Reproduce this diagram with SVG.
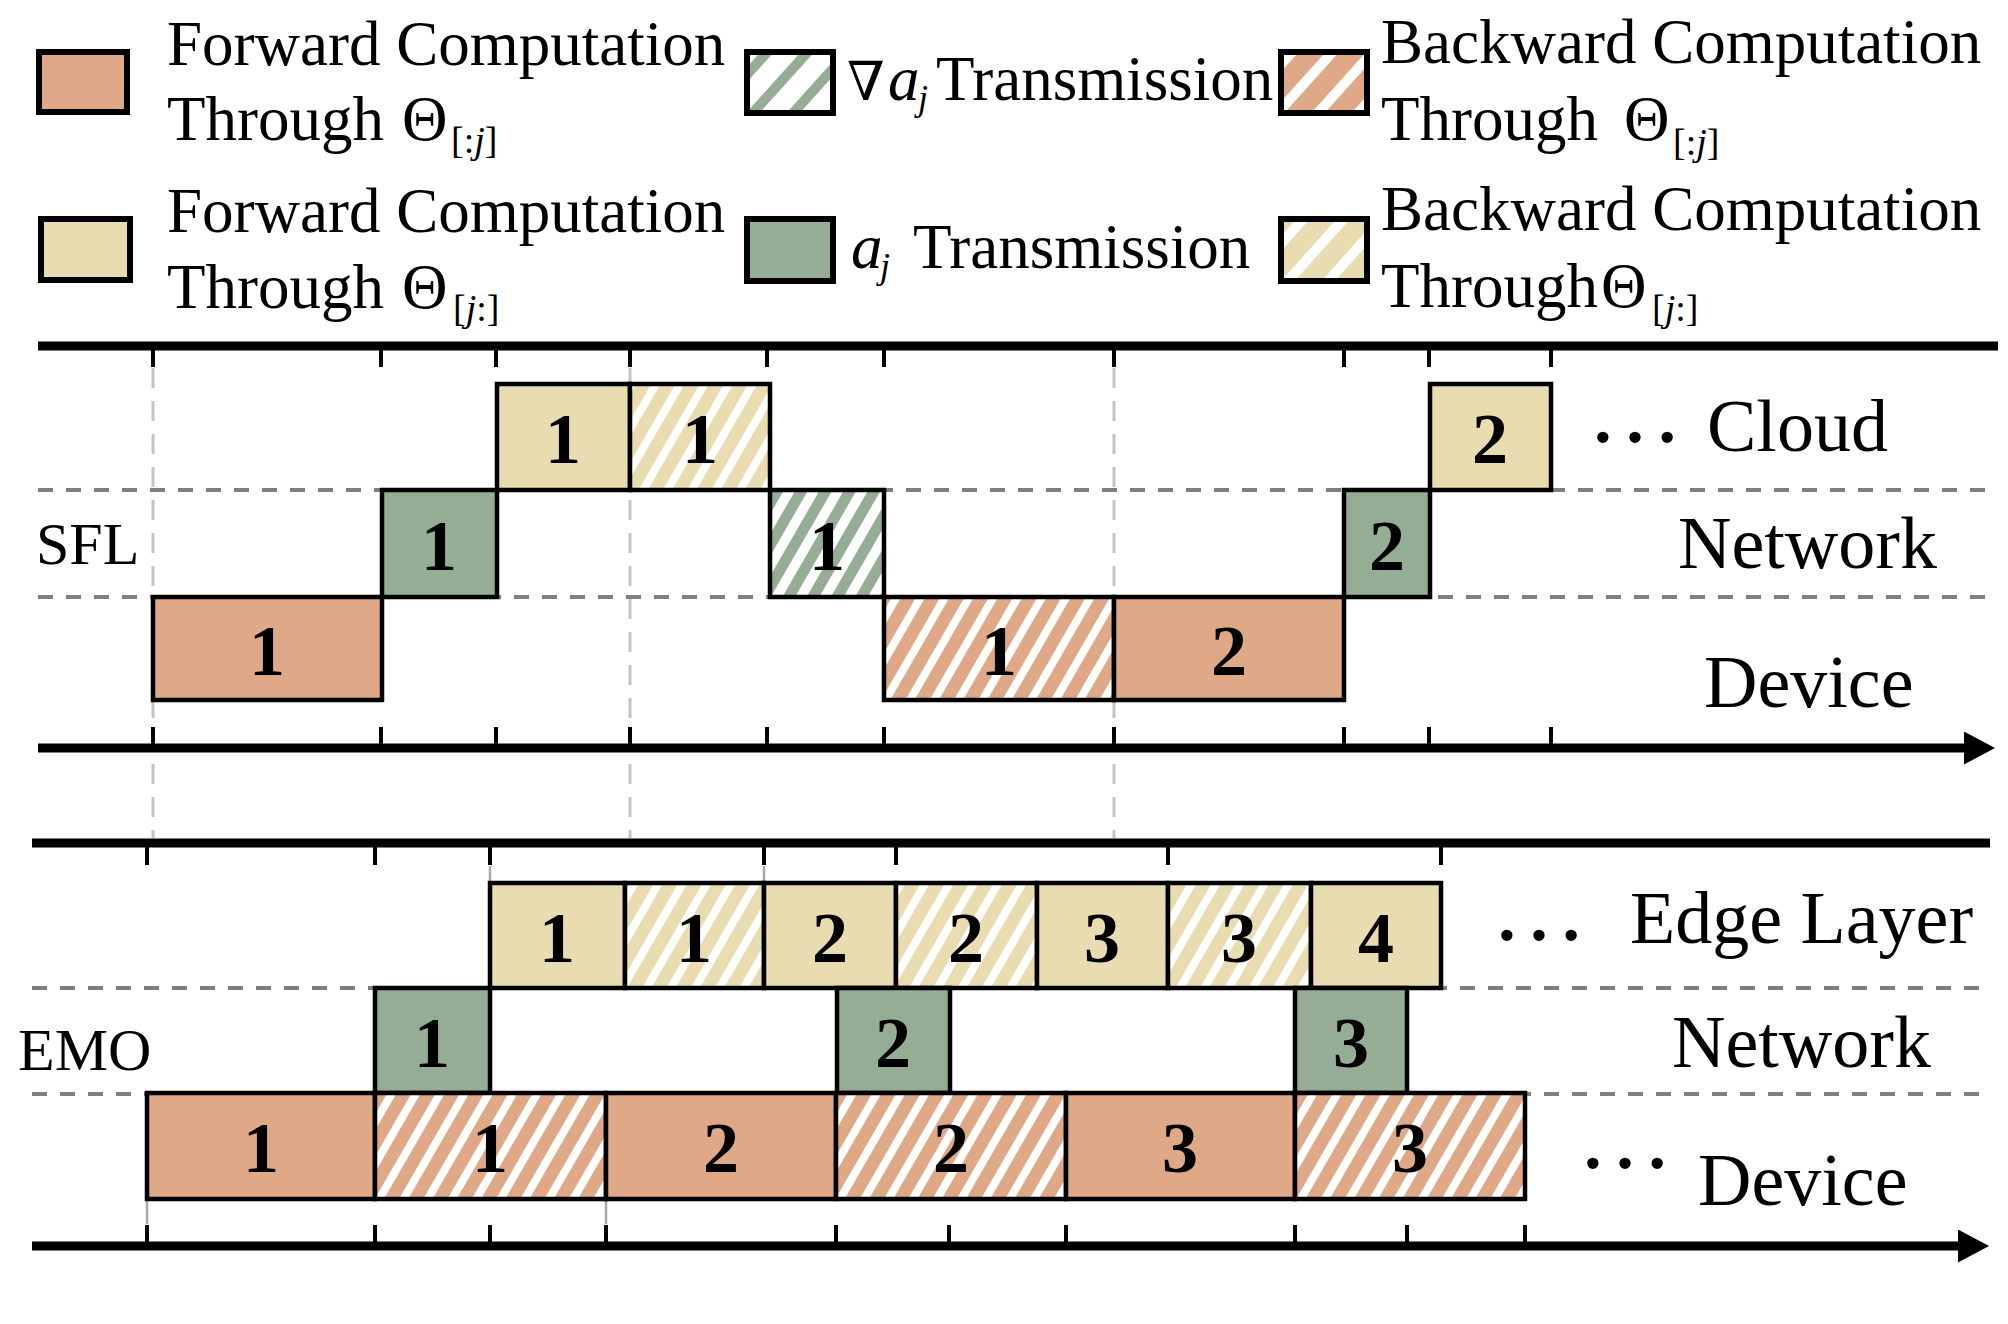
<svg xmlns="http://www.w3.org/2000/svg" width="2008" height="1324" viewBox="0 0 2008 1324">
<style>
.box{stroke:#000;stroke-width:4.5}
.lgb{stroke:#000;stroke-width:6}
.fo{fill:#DFA886}.fb{fill:#E9DCB0}.tg{fill:#95AD95}
.bo{fill:url(#hO)}.bb{fill:url(#hB)}.tgh{fill:url(#hG)}
.lbo{fill:url(#hOL)}.lbb{fill:url(#hBL)}.ltgh{fill:url(#hGL)}
.num{font-family:'Liberation Serif','Times New Roman',serif;font-weight:bold;font-size:72px;text-anchor:middle;fill:#000}
.lbl{font-family:'Liberation Serif','Times New Roman',serif;font-size:74px;fill:#000}
.side{font-family:'Liberation Serif','Times New Roman',serif;font-size:60px;fill:#000}
.leg{font-family:'Liberation Serif','Times New Roman',serif;font-size:63px;fill:#000}
.dots{font-family:'Liberation Serif','Times New Roman',serif;font-size:96px;fill:#000}
.axis{stroke:#000;stroke-width:9}
.tick{stroke:#000;stroke-width:4}
.hdash{stroke:#7F7F7F;stroke-width:4;stroke-dasharray:15 13}
.vdash{stroke:#C4C4C4;stroke-width:3;stroke-dasharray:20 13}
.guide{stroke:#A8A8A8;stroke-width:2.5}
</style>
<defs>
<pattern id="hO" patternUnits="userSpaceOnUse" width="21" height="21" patternTransform="rotate(30)"><rect width="21" height="21" fill="#DFA886"/><rect width="8" height="21" fill="#fff"/></pattern>
<pattern id="hB" patternUnits="userSpaceOnUse" width="21" height="21" patternTransform="rotate(30)"><rect width="21" height="21" fill="#E9DCB0"/><rect width="8" height="21" fill="#fff"/></pattern>
<pattern id="hG" patternUnits="userSpaceOnUse" width="21" height="21" patternTransform="rotate(30)"><rect width="21" height="21" fill="#95AD95"/><rect width="10" height="21" fill="#fff"/></pattern>
<pattern id="hOL" patternUnits="userSpaceOnUse" width="30" height="30" patternTransform="rotate(42)"><rect width="30" height="30" fill="#DFA886"/><rect width="10" height="30" fill="#fff"/></pattern>
<pattern id="hBL" patternUnits="userSpaceOnUse" width="30" height="30" patternTransform="rotate(42)"><rect width="30" height="30" fill="#E9DCB0"/><rect width="10" height="30" fill="#fff"/></pattern>
<pattern id="hGL" patternUnits="userSpaceOnUse" width="30" height="30" patternTransform="rotate(42)"><rect width="30" height="30" fill="#fff"/><rect width="10" height="30" fill="#95AD95"/></pattern>
<marker id="arr" markerUnits="userSpaceOnUse" markerWidth="32" markerHeight="33" refX="2" refY="16.5" orient="auto"><path d="M0,0 L31,16.5 L0,33 Z" fill="#000"/></marker>
</defs>
<rect width="2008" height="1324" fill="#fff"/>

<g id="legend">
<g id="leg-fwd-dev"><rect class="lgb fo" x="39" y="52" width="88" height="60"/>
<text class="leg" x="167" y="65">Forward Computation</text>
<text class="leg" x="167" y="140">Through<tspan x="402">Θ</tspan><tspan x="451" dy="13" font-size="38">[:<tspan font-style="italic">j</tspan>]</tspan></text></g>
<g id="leg-fwd-cloud"><rect class="lgb fb" x="41" y="219" width="89" height="61"/>
<text class="leg" x="167" y="232">Forward Computation</text>
<text class="leg" x="167" y="308">Through<tspan x="402">Θ</tspan><tspan x="453" dy="13" font-size="38">[<tspan font-style="italic">j</tspan>:]</tspan></text></g>
<g id="leg-grad"><rect class="lgb ltgh" x="747" y="52" width="86" height="61"/>
<text class="leg" x="847" y="100"><tspan font-family="'Liberation Serif','DejaVu Serif',serif" font-size="54">∇</tspan><tspan x="888" font-style="italic">a</tspan><tspan x="918" dy="10" font-size="36" font-style="italic">j</tspan><tspan x="936" dy="-10">Transmission</tspan></text></g>
<g id="leg-act"><rect class="lgb tg" x="747" y="219" width="86" height="62"/>
<text class="leg" x="851" y="268"><tspan font-style="italic">a</tspan><tspan x="880" dy="10" font-size="36" font-style="italic">j</tspan><tspan x="913" dy="-10">Transmission</tspan></text></g>
<g id="leg-bwd-dev"><rect class="lgb lbo" x="1281" y="52" width="86" height="61"/>
<text class="leg" x="1381" y="63">Backward Computation</text>
<text class="leg" x="1381" y="140">Through<tspan x="1624">Θ</tspan><tspan x="1673" dy="15" font-size="38">[:<tspan font-style="italic">j</tspan>]</tspan></text></g>
<g id="leg-bwd-cloud"><rect class="lgb lbb" x="1281" y="219" width="86" height="62"/>
<text class="leg" x="1381" y="230">Backward Computation</text>
<text class="leg" x="1381" y="307">Through<tspan x="1601">Θ</tspan><tspan x="1652" dy="14" font-size="38">[<tspan font-style="italic">j</tspan>:]</tspan></text></g>
</g>

<g id="connectors">
<line class="vdash" x1="153" y1="368" x2="153" y2="838"/>
<line class="vdash" x1="630" y1="368" x2="630" y2="838"/>
<line class="vdash" x1="1114" y1="368" x2="1114" y2="838"/>
<line class="hdash" x1="38" y1="490" x2="1998" y2="490"/>
<line class="hdash" x1="38" y1="597" x2="1998" y2="597"/>
<line class="axis" x1="38" y1="346" x2="1998" y2="346"/>
<line class="axis" x1="38" y1="748" x2="1966" y2="748" marker-end="url(#arr)"/>
<g class="tick">
<line x1="153" y1="350" x2="153" y2="367"/><line x1="381" y1="350" x2="381" y2="367"/><line x1="496" y1="350" x2="496" y2="367"/><line x1="630" y1="350" x2="630" y2="367"/><line x1="767" y1="350" x2="767" y2="367"/><line x1="884" y1="350" x2="884" y2="367"/><line x1="1114" y1="350" x2="1114" y2="367"/><line x1="1344" y1="350" x2="1344" y2="367"/><line x1="1429" y1="350" x2="1429" y2="367"/><line x1="1551" y1="350" x2="1551" y2="367"/>
<line x1="153" y1="727" x2="153" y2="744"/><line x1="381" y1="727" x2="381" y2="744"/><line x1="496" y1="727" x2="496" y2="744"/><line x1="630" y1="727" x2="630" y2="744"/><line x1="767" y1="727" x2="767" y2="744"/><line x1="884" y1="727" x2="884" y2="744"/><line x1="1114" y1="727" x2="1114" y2="744"/><line x1="1344" y1="727" x2="1344" y2="744"/><line x1="1429" y1="727" x2="1429" y2="744"/><line x1="1551" y1="727" x2="1551" y2="744"/>
</g>
<line class="hdash" x1="32" y1="988" x2="1992" y2="988"/>
<line class="hdash" x1="32" y1="1094" x2="1992" y2="1094"/>
<line class="axis" x1="32" y1="843" x2="1990" y2="843"/>
<line class="axis" x1="32" y1="1246" x2="1960" y2="1246" marker-end="url(#arr)"/>
<line class="guide" x1="490" y1="866" x2="490" y2="883"/>
<line class="guide" x1="764" y1="866" x2="764" y2="883"/>
<line class="guide" x1="147" y1="1199" x2="147" y2="1224"/>
<line class="guide" x1="606" y1="1199" x2="606" y2="1224"/>
<g class="tick">
<line x1="147" y1="847" x2="147" y2="865"/><line x1="375" y1="847" x2="375" y2="865"/><line x1="490" y1="847" x2="490" y2="865"/><line x1="764" y1="847" x2="764" y2="865"/><line x1="896" y1="847" x2="896" y2="865"/><line x1="1168" y1="847" x2="1168" y2="865"/><line x1="1441" y1="847" x2="1441" y2="865"/>
<line x1="147" y1="1225" x2="147" y2="1242"/><line x1="375" y1="1225" x2="375" y2="1242"/><line x1="490" y1="1225" x2="490" y2="1242"/><line x1="606" y1="1225" x2="606" y2="1242"/><line x1="836" y1="1225" x2="836" y2="1242"/><line x1="949" y1="1225" x2="949" y2="1242"/><line x1="1066" y1="1225" x2="1066" y2="1242"/><line x1="1295" y1="1225" x2="1295" y2="1242"/><line x1="1407" y1="1225" x2="1407" y2="1242"/><line x1="1525" y1="1225" x2="1525" y2="1242"/>
</g>
</g>

<g id="sfl">
<text class="side" x="36" y="564">SFL</text>
<g id="sfl-dev-f1"><rect class="box fo" x="153" y="597" width="229" height="103"/><text class="num" x="267" y="675">1</text></g>
<g id="sfl-net-a1"><rect class="box tg" x="382" y="490" width="115" height="107"/><text class="num" x="439" y="570">1</text></g>
<g id="sfl-cloud-f1"><rect class="box fb" x="497" y="384" width="133" height="106"/><text class="num" x="563" y="463">1</text></g>
<g id="sfl-cloud-b1"><rect class="box bb" x="630" y="384" width="140" height="106"/><text class="num" x="700" y="463">1</text></g>
<g id="sfl-net-g1"><rect class="box tgh" x="770" y="490" width="114" height="107"/><text class="num" x="827" y="570">1</text></g>
<g id="sfl-dev-b1"><rect class="box bo" x="884" y="597" width="230" height="103"/><text class="num" x="999" y="675">1</text></g>
<g id="sfl-dev-f2"><rect class="box fo" x="1114" y="597" width="230" height="103"/><text class="num" x="1229" y="675">2</text></g>
<g id="sfl-net-a2"><rect class="box tg" x="1344" y="490" width="86" height="107"/><text class="num" x="1387" y="570">2</text></g>
<g id="sfl-cloud-f2"><rect class="box fb" x="1430" y="384" width="121" height="106"/><text class="num" x="1490" y="463">2</text></g>
<text class="dots" x="1587" y="442">…</text>
<text class="lbl" x="1707" y="451">Cloud</text>
<text class="lbl" x="1678" y="568">Network</text>
<text class="lbl" x="1704" y="707">Device</text>
</g>

<g id="emo">
<text class="side" x="18" y="1070">EMO</text>
<g id="emo-edge-f1"><rect class="box fb" x="490" y="883" width="135" height="105"/><text class="num" x="557" y="962">1</text></g>
<g id="emo-edge-b1"><rect class="box bb" x="625" y="883" width="139" height="105"/><text class="num" x="694" y="962">1</text></g>
<g id="emo-edge-f2"><rect class="box fb" x="764" y="883" width="132" height="105"/><text class="num" x="830" y="962">2</text></g>
<g id="emo-edge-b2"><rect class="box bb" x="896" y="883" width="141" height="105"/><text class="num" x="966" y="962">2</text></g>
<g id="emo-edge-f3"><rect class="box fb" x="1037" y="883" width="131" height="105"/><text class="num" x="1102" y="962">3</text></g>
<g id="emo-edge-b3"><rect class="box bb" x="1168" y="883" width="143" height="105"/><text class="num" x="1239" y="962">3</text></g>
<g id="emo-edge-f4"><rect class="box fb" x="1311" y="883" width="130" height="105"/><text class="num" x="1376" y="962">4</text></g>
<g id="emo-net-a1"><rect class="box tg" x="375" y="988" width="115" height="105"/><text class="num" x="432" y="1067">1</text></g>
<g id="emo-net-a2"><rect class="box tg" x="837" y="988" width="113" height="105"/><text class="num" x="893" y="1067">2</text></g>
<g id="emo-net-a3"><rect class="box tg" x="1295" y="988" width="112" height="105"/><text class="num" x="1351" y="1067">3</text></g>
<g id="emo-dev-f1"><rect class="box fo" x="147" y="1093" width="228" height="106"/><text class="num" x="261" y="1172">1</text></g>
<g id="emo-dev-b1"><rect class="box bo" x="375" y="1093" width="231" height="106"/><text class="num" x="490" y="1172">1</text></g>
<g id="emo-dev-f2"><rect class="box fo" x="606" y="1093" width="230" height="106"/><text class="num" x="721" y="1172">2</text></g>
<g id="emo-dev-b2"><rect class="box bo" x="836" y="1093" width="230" height="106"/><text class="num" x="951" y="1172">2</text></g>
<g id="emo-dev-f3"><rect class="box fo" x="1066" y="1093" width="229" height="106"/><text class="num" x="1180" y="1172">3</text></g>
<g id="emo-dev-b3"><rect class="box bo" x="1295" y="1093" width="230" height="106"/><text class="num" x="1410" y="1172">3</text></g>
<text class="dots" x="1491" y="940">…</text>
<text class="lbl" x="1630" y="943">Edge Layer</text>
<text class="lbl" x="1672" y="1067">Network</text>
<text class="dots" x="1577" y="1168">…</text>
<text class="lbl" x="1698" y="1205">Device</text>
</g>
</svg>
